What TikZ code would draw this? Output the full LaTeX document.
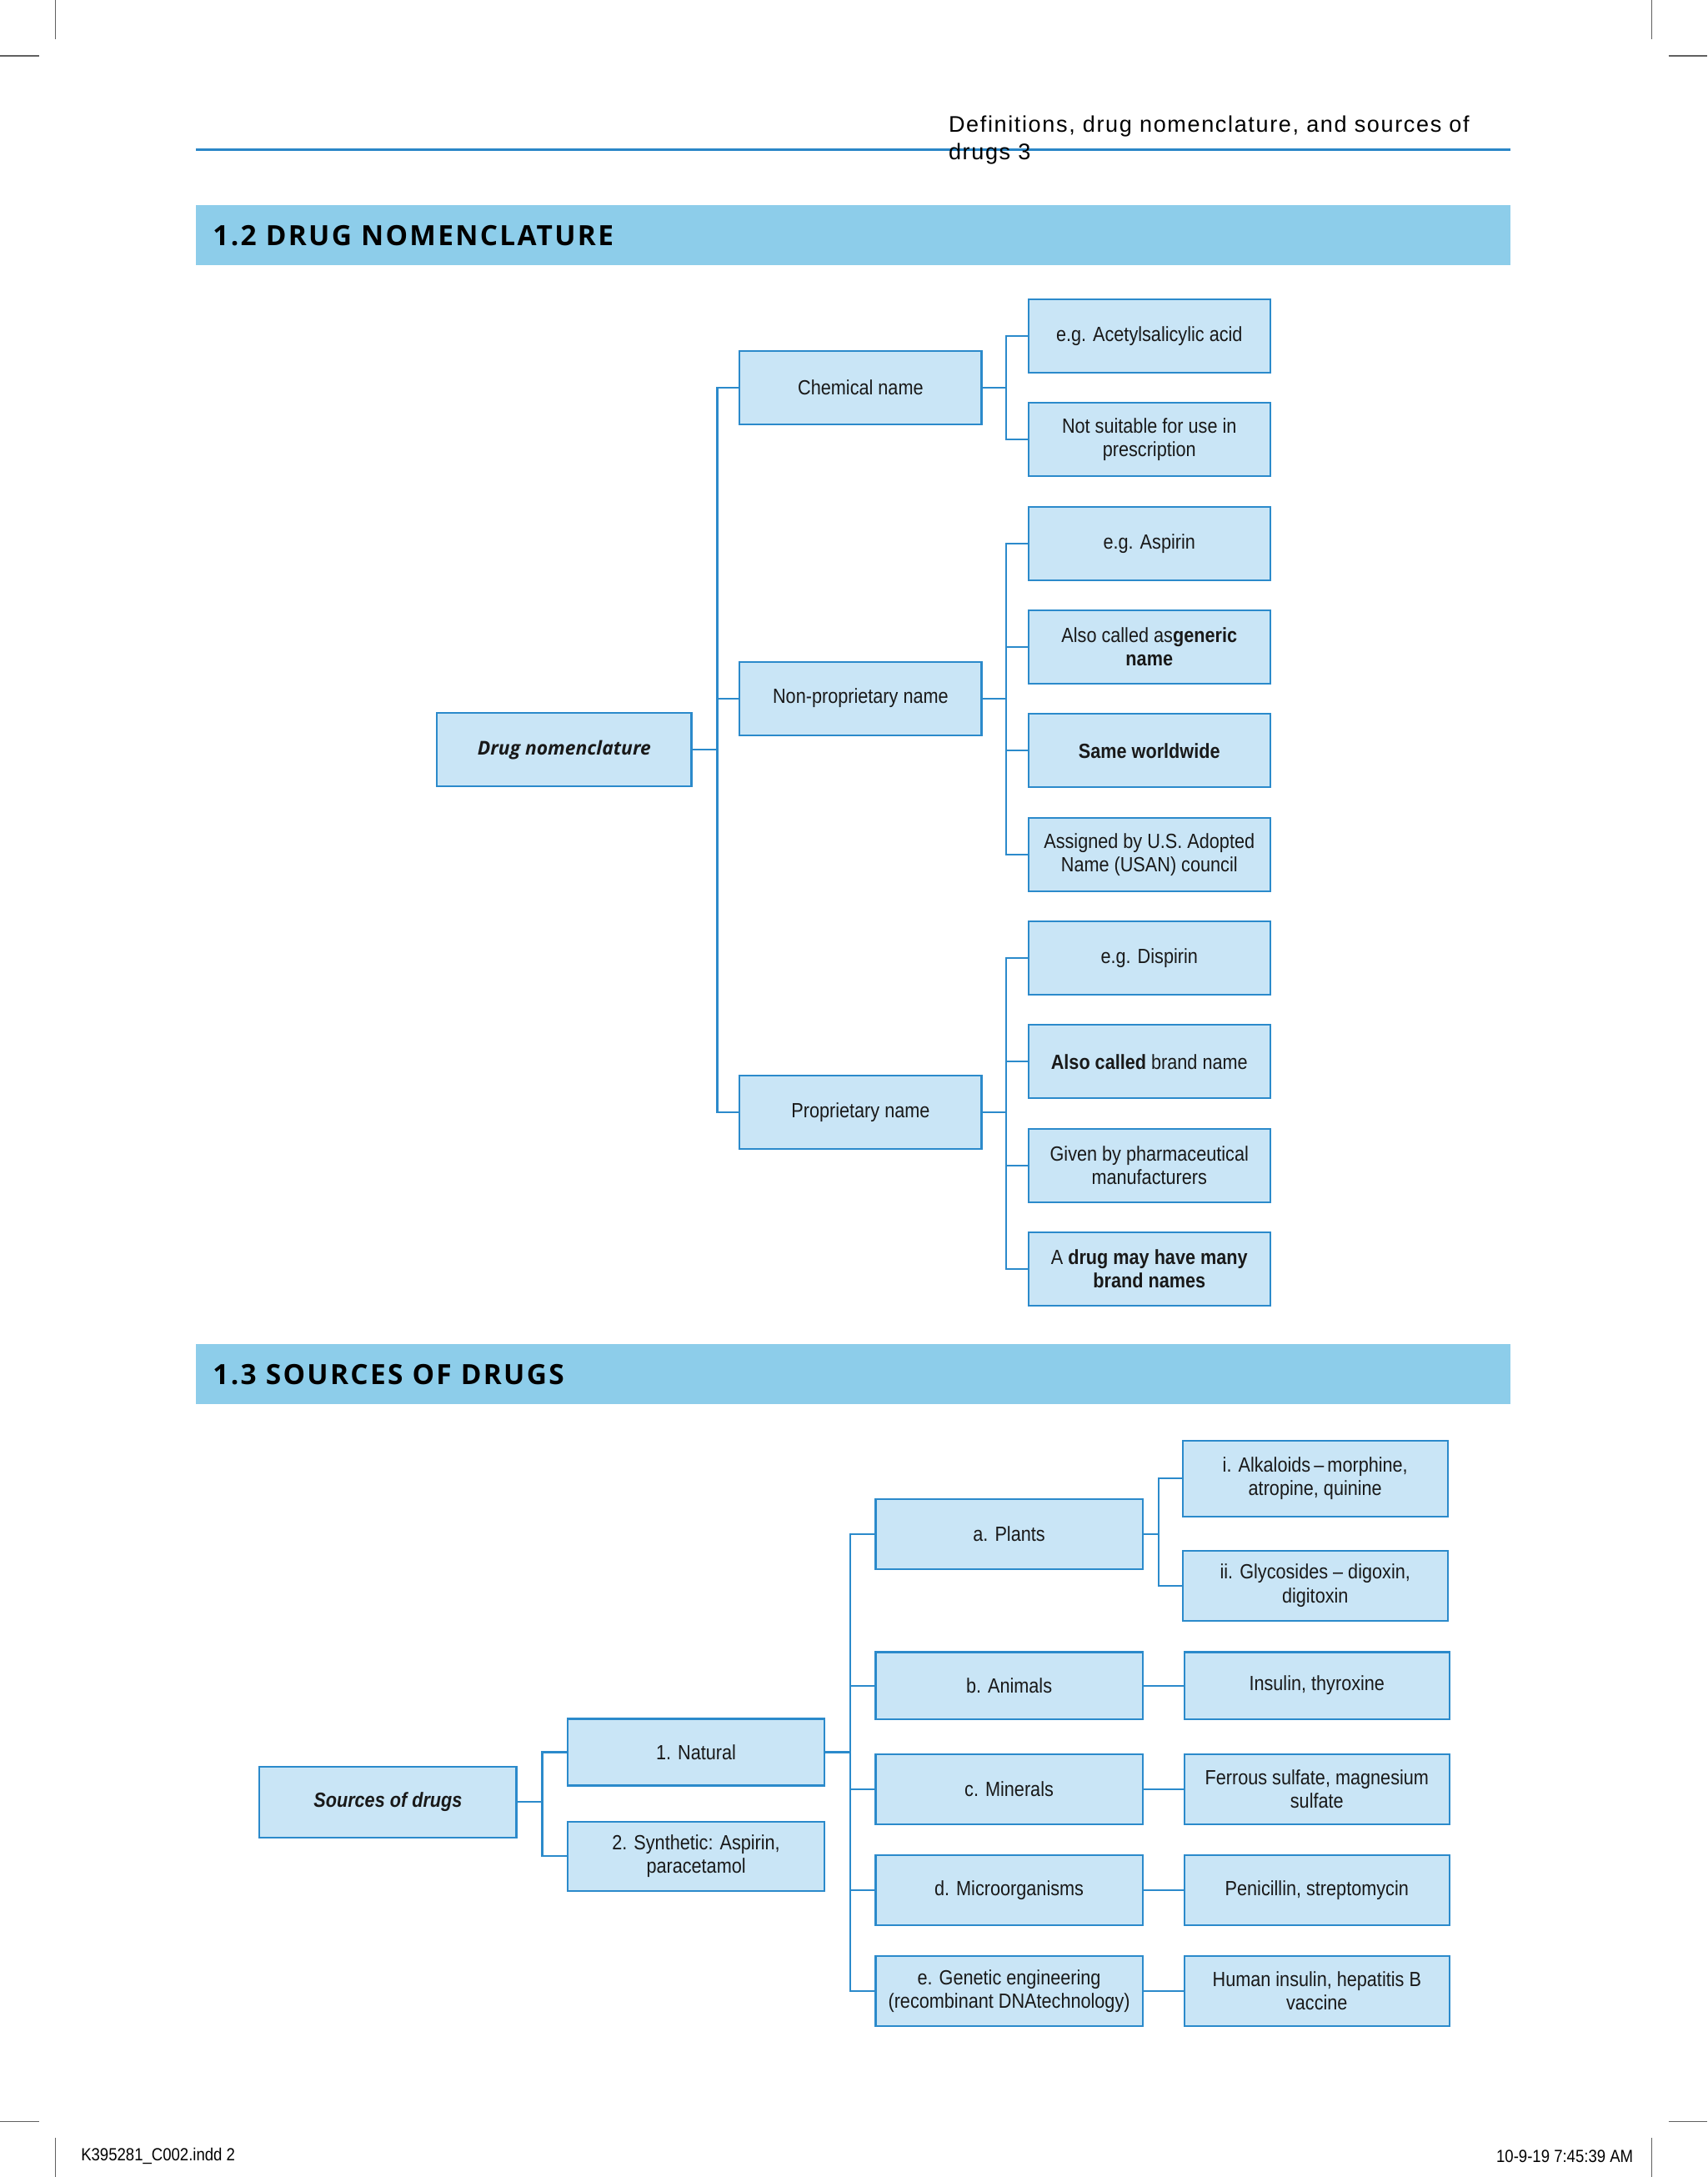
\documentclass[tikz,border=0pt]{standalone}
\usepackage{fontspec}
\setmainfont{Liberation Sans}
\newfontfamily\boxfont[FakeStretch=0.88,Ligatures=TeX]{Liberation Sans}
\newfontfamily\headfont[LetterSpace=7]{Open Sans}
\newfontfamily\runfont[LetterSpace=6]{Liberation Sans}
\newfontfamily\rootfont{Open Sans}
\usetikzlibrary{positioning}
\definecolor{boxfill}{HTML}{C9E5F6}
\definecolor{boxline}{HTML}{2B8ACB}
\definecolor{barfill}{HTML}{8DCDEA}
\definecolor{rulecol}{HTML}{2A86C7}
\definecolor{cropcol}{HTML}{606060}

\begin{document}
\begin{tikzpicture}[
    x=0.01665cm, y=-0.01665cm,
    box/.style={rectangle, draw=boxline, fill=boxfill, line width=0.6pt,
                align=center, inner sep=1pt, text=black!90,
                font=\boxfont\fontsize{7}{8}\selectfont,
                minimum width=2.9cm, minimum height=0.88cm},
    srcbox/.style={box, minimum width=3.08cm, minimum height=0.83cm},
    kindbox/.style={box, minimum width=3.2cm, minimum height=0.84cm},
    egbox/.style={box, minimum width=3.18cm, minimum height=0.84cm},
    section/.style={anchor=west, inner sep=0pt,
                    font=\headfont\bfseries\fontsize{9.5}{11}\selectfont},
    link/.style={draw=boxline, line width=0.6pt},
    crop/.style={draw=cropcol, line width=0.5pt}
  ]
    \useasboundingbox (0,0) rectangle (1230,1568);

    % crop marks
    \draw[crop] (40,0) -- (40,28);
    \draw[crop] (1190,0) -- (1190,28);
    \draw[crop] (0,40) -- (28,40);
    \draw[crop] (1202,40) -- (1230,40);
    \draw[crop] (0,1528) -- (28,1528);
    \draw[crop] (1202,1528) -- (1230,1528);
    \draw[crop] (40,1540) -- (40,1568);
    \draw[crop] (1190,1540) -- (1190,1568);

    % running head
    \draw[rulecol, line width=0.8pt] (141,108) -- (1088,108);
    \node[anchor=base west, align=left, inner sep=0pt,
          font=\runfont\fontsize{7.7}{9.5}\selectfont] (runhead) at (683,115)
      {Definitions, drug nomenclature, and sources of\\drugs 3};

    % 1.2 drug nomenclature
    \fill[barfill] (141,148) rectangle (1088,191);
    \node[section] (secnom) at (153,170) {1.2 DRUG NOMENCLATURE};

    \node[box, minimum width=3.05cm] (drugnom) at (406.5,540)
      {\rootfont\bfseries\itshape\fontsize{6.5}{8}\selectfont Drug nomenclature};
    \node[box] (chemname) at (620,279) {Chemical name};
    \node[box] (nonprop) at (620,503) {Non-proprietary name};
    \node[box] (propname) at (620,801) {Proprietary name};

    \node[box] (acetyl) at (828,242) {e.g. Acetylsalicylic acid};
    \node[box, below=0.342cm of acetyl] (notsuit) {Not suitable for use in\\prescription};
    \node[box, below=0.342cm of notsuit] (aspirin) {e.g. Aspirin};
    \node[box, below=0.342cm of aspirin] (generic) {Also called as\textbf{generic}\\\textbf{name}};
    \node[box, below=0.342cm of generic] (sameworld) {\textbf{Same worldwide}};
    \node[box, below=0.342cm of sameworld] (usan) {Assigned by U.S. Adopted\\Name (USAN) council};
    \node[box, below=0.342cm of usan] (dispirin) {e.g. Dispirin};
    \node[box, below=0.342cm of dispirin] (brand) {\textbf{Also called} brand name};
    \node[box, below=0.342cm of brand] (givenby) {Given by pharmaceutical\\manufacturers};
    \node[box, below=0.342cm of givenby] (manybrand) {A \textbf{drug may have many}\\\textbf{brand names}};

    \foreach \kind in {chemname,nonprop,propname}
      \draw[link] (drugnom.east) -- ++(18,0) |- (\kind.west);
    \foreach \leaf in {acetyl,notsuit}
      \draw[link] (chemname.east) -- ++(17,0) |- (\leaf.west);
    \foreach \leaf in {aspirin,generic,sameworld,usan}
      \draw[link] (nonprop.east) -- ++(17,0) |- (\leaf.west);
    \foreach \leaf in {dispirin,brand,givenby,manybrand}
      \draw[link] (propname.east) -- ++(17,0) |- (\leaf.west);

    % 1.3 sources of drugs
    \fill[barfill] (141,968) rectangle (1088,1011);
    \node[section] (secsrc) at (153,990) {1.3 SOURCES\ OF DRUGS};

    \node[srcbox, minimum height=0.85cm] (sources) at (279.5,1298)
      {\bfseries\itshape Sources of drugs};
    \node[srcbox, minimum height=0.8cm] (natural) at (501.5,1262) {1. Natural};
    \node[srcbox] (synthetic) at (501.5,1337) {2. Synthetic: Aspirin,\\paracetamol};

    \node[kindbox] (plants) at (727,1105) {a. Plants};
    \node[kindbox, minimum height=0.8cm] (animals) at (727,1214) {b. Animals};
    \node[kindbox, below=0.4cm of animals] (minerals) {c. Minerals};
    \node[kindbox, below=0.35cm of minerals] (microbes) {d. Microorganisms};
    \node[kindbox, below=0.35cm of microbes] (genetic) {e. Genetic engineering\\(recombinant DNAtechnology)};

    \node[egbox, minimum height=0.91cm] (alkaloids) at (947.5,1065)
      {i. Alkaloids\,–\,morphine,\\atropine, quinine};
    \node[egbox] (glycosides) at (947.5,1142) {ii. Glycosides – digoxin,\\digitoxin};
    \node[egbox, minimum height=0.8cm, right=0.48cm of animals] (insulin) {Insulin, thyroxine};
    \node[egbox, right=0.48cm of minerals] (ferrous) {Ferrous sulfate, magnesium\\sulfate};
    \node[egbox, right=0.48cm of microbes] (penicillin) {Penicillin, streptomycin};
    \node[egbox, right=0.48cm of genetic] (human) {Human insulin, hepatitis B\\vaccine};

    \foreach \kind in {natural,synthetic}
      \draw[link] (sources.east) -- ++(18,0) |- (\kind.west);
    \foreach \kind in {plants,animals,minerals,microbes,genetic}
      \draw[link] (natural.east) -- ++(18,0) |- (\kind.west);
    \foreach \leaf in {alkaloids,glycosides}
      \draw[link] (plants.east) -- ++(11,0) |- (\leaf.west);
    \draw[link] (animals) -- (insulin);
    \draw[link] (minerals) -- (ferrous);
    \draw[link] (microbes) -- (penicillin);
    \draw[link] (genetic) -- (human);

    % slug line
    \node[anchor=west, inner sep=0pt, font=\boxfont\fontsize{6}{7}\selectfont]
      (jobname) at (58,1553) {K395281\_C002.indd 2};
    \node[anchor=east, inner sep=0pt, font=\boxfont\fontsize{6}{7}\selectfont]
      (stamp) at (1177,1553) {10-9-19 7:45:39 AM};
  \end{tikzpicture}
\end{document}
